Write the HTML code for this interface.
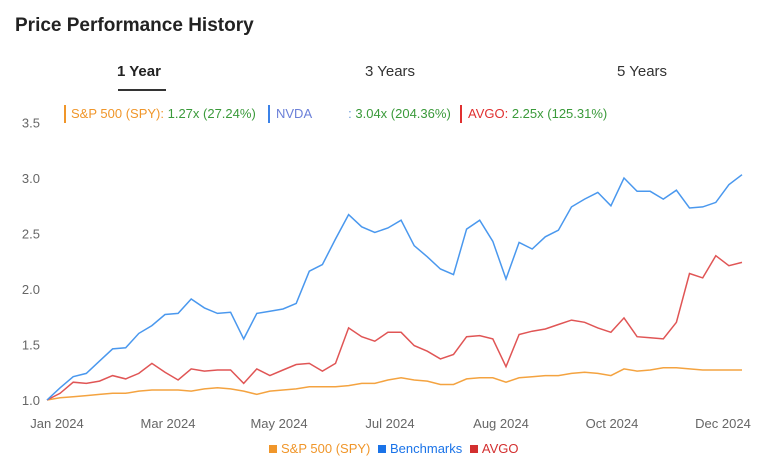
<!DOCTYPE html>
<html><head><meta charset="utf-8"><style>
body{margin:0;width:768px;height:463px;background:#fff;font-family:"Liberation Sans",sans-serif;overflow:hidden;position:relative}
.a{position:absolute;white-space:nowrap}
</style></head><body>
<div class="a" style="left:15px;top:15px;font-size:19px;font-weight:bold;color:#222">Price Performance History</div>
<div class="a" style="left:117px;top:63px;font-size:15px;font-weight:bold;color:#222">1 Year</div>
<div class="a" style="left:118px;top:89px;width:48px;height:2px;background:#333"></div>
<div class="a" style="left:365px;top:63px;font-size:15px;color:#333">3 Years</div>
<div class="a" style="left:617px;top:63px;font-size:15px;color:#333">5 Years</div>

<div class="a" style="left:64px;top:105px;font-size:13px;border-left:2px solid #f0962a;padding-left:5px;height:18px;line-height:18px"><span style="color:#f0962a">S&amp;P 500 (SPY):</span> <span style="color:#3a9a3a">1.27x (27.24%)</span></div>
<div class="a" style="left:268px;top:105px;font-size:13px;border-left:2px solid #3b82e8;padding-left:6px;height:18px;line-height:18px"><span style="color:#6a7fd8">NVDA</span><span style="color:#6a9ad8;margin-left:36px">:</span> <span style="color:#3a9a3a">3.04x (204.36%)</span></div>
<div class="a" style="left:460px;top:105px;font-size:13px;border-left:2px solid #e03030;padding-left:6px;height:18px;line-height:18px"><span style="color:#e03030">AVGO:</span> <span style="color:#3a9a3a">2.25x (125.31%)</span></div>

<svg class="a" style="left:0;top:0" width="768" height="463" id="chart"></svg>

<div class="a" style="left:269px;top:441px;font-size:13px">
<span style="color:#f0962a"><span style="display:inline-block;width:8px;height:8px;background:#f0962a;margin-right:4px"></span>S&amp;P 500 (SPY)</span>
<span style="color:#1a73e8;margin-left:4px"><span style="display:inline-block;width:8px;height:8px;background:#1a73e8;margin-right:4px"></span>Benchmarks</span>
<span style="color:#d32f2f;margin-left:4px"><span style="display:inline-block;width:8px;height:8px;background:#d32f2f;margin-right:4px"></span>AVGO</span>
</div>

<script>
const xLabels=["Jan 2024","Mar 2024","May 2024","Jul 2024","Aug 2024","Oct 2024","Dec 2024"];
const yTicks=[1.0,1.5,2.0,2.5,3.0,3.5];
const spy=[1.00,1.02,1.03,1.04,1.05,1.06,1.06,1.08,1.09,1.09,1.09,1.08,1.10,1.11,1.10,1.08,1.05,1.08,1.09,1.10,1.12,1.12,1.12,1.13,1.15,1.15,1.18,
1.20,1.18,1.17,1.14,1.14,1.19,1.20,1.20,1.16,1.20,1.21,1.22,1.22,1.24,1.25,1.24,1.22,1.28,1.26,1.27,1.29,1.29,1.28,1.27,1.27,1.27,1.27];
const nvda=[1.00,1.11,1.21,1.24,1.35,1.46,1.47,1.60,1.67,1.77,1.78,1.91,1.83,1.78,1.79,1.55,1.78,1.80,1.82,1.87,2.16,2.22,2.45,2.67,2.56,2.51,2.55,
2.62,2.39,2.29,2.18,2.13,2.54,2.62,2.43,2.09,2.42,2.36,2.47,2.53,2.74,2.81,2.87,2.75,3.00,2.88,2.88,2.81,2.89,2.73,2.74,2.78,2.94,3.03];
const avgo=[1.00,1.06,1.16,1.15,1.17,1.22,1.19,1.24,1.33,1.25,1.18,1.28,1.26,1.27,1.27,1.15,1.28,1.22,1.27,1.32,1.33,1.26,1.33,1.65,1.57,1.53,1.61,
1.61,1.49,1.44,1.37,1.41,1.57,1.58,1.55,1.30,1.59,1.62,1.64,1.68,1.72,1.70,1.65,1.61,1.74,1.57,1.56,1.55,1.70,2.14,2.10,2.30,2.21,2.24];
const svg=document.getElementById('chart');
const NS='http://www.w3.org/2000/svg';
const x0=47,x1=742,yBase=400,pxPerUnit=111;
function xs(i,n){return x0+(x1-x0)*i/(n-1);}
function ys(v){return yBase-(v-1)*pxPerUnit;}
yTicks.forEach(v=>{
  const t=document.createElementNS(NS,'text');
  
  
  t.setAttribute('x',40);t.setAttribute('y',ys(v)+5);t.setAttribute('text-anchor','end');
  t.setAttribute('font-size','13');t.setAttribute('fill','#666');t.setAttribute('font-family','Liberation Sans, sans-serif');
  t.textContent=v.toFixed(1);svg.appendChild(t);
});
xLabels.forEach((l,i)=>{
  const t=document.createElementNS(NS,'text');
  
  
  t.setAttribute('x',57+111*i);t.setAttribute('y',428);t.setAttribute('text-anchor','middle');
  t.setAttribute('font-size','13');t.setAttribute('fill','#666');t.setAttribute('font-family','Liberation Sans, sans-serif');
  t.textContent=l;svg.appendChild(t);
});
function line(data,color,name){
  const p=document.createElementNS(NS,'polyline');
  
  
  p.setAttribute('points',data.map((v,i)=>xs(i,data.length).toFixed(1)+','+ys(v).toFixed(1)).join(' '));
  p.setAttribute('fill','none');p.setAttribute('stroke',color);p.setAttribute('stroke-width','1.5');
  svg.appendChild(p);
}
line(spy,'#f4a340','spy-line');
line(avgo,'#e05555','avgo-line');
line(nvda,'#4a98ee','nvda-line');
</script>
</body></html>
